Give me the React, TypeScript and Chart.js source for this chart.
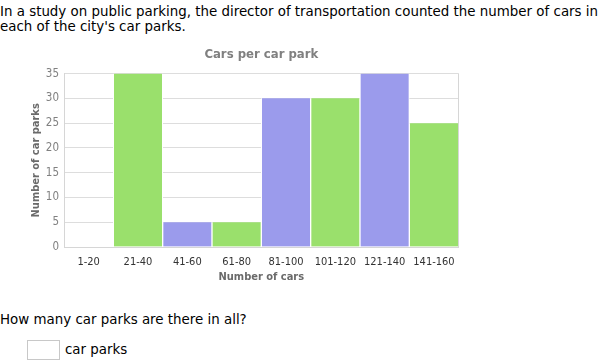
import React, { useEffect, useRef } from "react";
import { Chart, registerables } from "chart.js";

Chart.register(...registerables);

const categories = ["1-20", "21-40", "41-60", "61-80", "81-100", "101-120", "121-140", "141-160"];
const carParks = [0, 35, 5, 5, 30, 30, 35, 25];
const yTicks = [0, 5, 10, 15, 20, 25, 30, 35];
const barColors = ["#9b9bec", "#9ae06c", "#9b9bec", "#9ae06c", "#9b9bec", "#9ae06c", "#9b9bec", "#9ae06c"];

const FONT = "'DejaVu Sans Condensed', 'DejaVu Sans', sans-serif";
const TEXT_FONT = "'DejaVu Sans', sans-serif";

const borderPlugin = {
  id: "plotBorder",
  afterDraw(chart: any) {
    const { ctx, chartArea } = chart;
    ctx.save();
    ctx.strokeStyle = "#d6d6d6";
    ctx.lineWidth = 1;
    ctx.beginPath();
    ctx.moveTo(Math.round(chartArea.right) - 0.5, chartArea.top);
    ctx.lineTo(Math.round(chartArea.right) - 0.5, chartArea.bottom);
    ctx.stroke();
    ctx.restore();
  },
};

function HistogramChart() {
  const ref = useRef<HTMLCanvasElement | null>(null);
  useEffect(() => {
    if (!ref.current) return;
    const chart = new Chart(ref.current, {
      type: "bar",
      data: {
        labels: categories,
        datasets: [
          {
            data: carParks,
            backgroundColor: barColors,
            borderColor: "#ffffff",
            borderWidth: { left: 1, right: 1, top: 0, bottom: 0 },
            borderSkipped: false,
            barPercentage: 1,
            categoryPercentage: 1,
          },
        ],
      },
      options: {
        animation: false,
        responsive: false,
        maintainAspectRatio: false,
        layout: { padding: { left: 0, right: 4, top: 0, bottom: 0 } },
        plugins: {
          legend: { display: false },
          tooltip: { enabled: false },
          title: {
            display: true,
            text: "Cars per car park",
            fullSize: false,
            color: "#808080",
            font: { family: FONT, size: 13, weight: "bold" },
            padding: { top: 3, bottom: 11 },
          },
        },
        scales: {
          x: {
            grid: { display: false, drawTicks: false },
            border: { display: true, color: "#d6d6d6" },
            ticks: { color: "#333333", font: { family: FONT, size: 11 }, padding: 9, maxRotation: 0, autoSkip: false },
            title: {
              display: true,
              text: "Number of cars",
              color: "#6a6a6a",
              font: { family: FONT, size: 11, weight: "bold" },
              padding: { top: 0, bottom: 6 },
            },
            afterFit(scale: any) {
              scale.height = 43;
            },
          },
          y: {
            min: 0,
            max: 35,
            afterBuildTicks(scale: any) {
              scale.ticks = yTicks.map((v) => ({ value: v }));
            },
            grid: { color: "#dddddd", drawTicks: false },
            border: { display: true, color: "#d6d6d6" },
            ticks: { color: "#808080", font: { family: FONT, size: 11.5 }, padding: 5 },
            title: {
              display: true,
              text: "Number of car parks",
              color: "#6a6a6a",
              font: { family: FONT, size: 11, weight: "bold" },
              padding: { top: 10, bottom: 0 },
            },
            afterFit(scale: any) {
              scale.width = 44;
            },
          },
        },
      },
      plugins: [borderPlugin],
    });
    return () => chart.destroy();
  }, []);
  return <canvas ref={ref} width={444} height={246} style={{ position: "absolute", left: 20, top: 44, width: 444, height: 246 }} />;
}

export default function App() {
  const textStyle: React.CSSProperties = {
    position: "absolute",
    left: 0,
    whiteSpace: "nowrap",
    fontFamily: TEXT_FONT,
    fontSize: 13.4,
    color: "#000000",
    lineHeight: "16px",
  };
  return (
    <div style={{ position: "fixed", left: 0, top: 0, width: 600, height: 360, background: "#ffffff", overflow: "hidden" }}>
      <div style={{ ...textStyle, top: 4 }}>
        In a study on public parking, the director of transportation counted the number of cars in
      </div>
      <div style={{ ...textStyle, top: 19 }}>each of the city's car parks.</div>
      <HistogramChart />
      <div style={{ ...textStyle, top: 312 }}>How many car parks are there in all?</div>
      <div
        style={{
          position: "absolute",
          left: 27,
          top: 340,
          width: 31,
          height: 18,
          border: "1px solid #c8c8c8",
          background: "#fff",
        }}
      />
      <div style={{ ...textStyle, left: 65, top: 342 }}>car parks</div>
    </div>
  );
}
